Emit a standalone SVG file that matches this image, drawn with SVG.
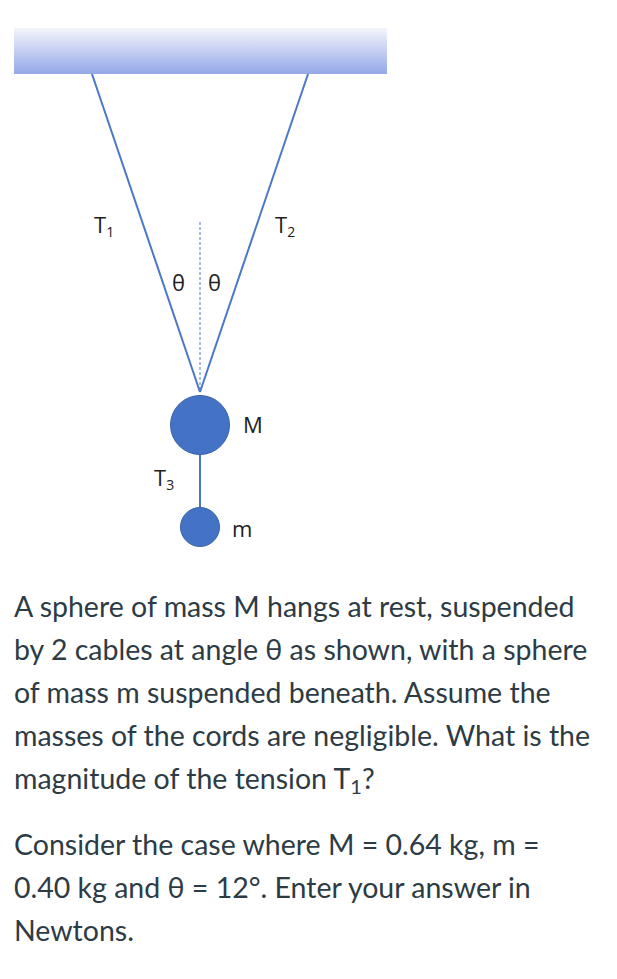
<svg xmlns="http://www.w3.org/2000/svg" width="617" height="979" viewBox="0 0 617 979">
<defs>
<linearGradient id="g" x1="0" y1="0" x2="0" y2="1"><stop offset="0" stop-color="#f4f5fc"/><stop offset="1" stop-color="#94a8e8"/></linearGradient>
<style>
.l{stroke:#4a78c8;stroke-width:2;fill:none}
.b{fill:#4472c4;stroke:#3a62a8;stroke-width:1}
.d{font-family:"Open Sans","Liberation Sans",sans-serif;font-size:22px;fill:#222}
.s{font-size:14px}
.t{font-family:Lato,"Liberation Sans",sans-serif;font-size:28.5px;fill:#2d3b45}
</style>
</defs>
<rect width="617" height="979" fill="#fff"/>
<rect id="ceiling" x="14" y="28" width="373" height="46" fill="url(#g)"/>
<g id="connectors">
<line class="l" x1="92" y1="74" x2="200" y2="392"/>
<line class="l" x1="308" y1="74" x2="200" y2="392"/>
<line x1="200" y1="222" x2="200" y2="392" stroke="#4a78c8" stroke-width="1" stroke-dasharray="3,2"/>
<line class="l" x1="200" y1="454" x2="200" y2="508"/>
</g>
<g id="M"><circle class="b" cx="200" cy="425" r="29.5"/><text class="d" x="243" y="433">M</text></g>
<g id="m"><circle class="b" cx="200" cy="527" r="19.5"/><text class="d" x="232" y="537">m</text></g>
<g id="labels">
<text class="d" x="94" y="233">T<tspan class="s" dy="4">1</tspan></text>
<text class="d" x="275" y="233">T<tspan class="s" dy="4">2</tspan></text>
<text class="d" x="154" y="486">T<tspan class="s" dy="4">3</tspan></text>
<text class="d" x="172" y="291">θ</text>
<text class="d" x="208" y="291">θ</text>
</g>
<g id="question">
<text class="t" x="14" y="617">A sphere of mass M hangs at rest, suspended</text>
<text class="t" x="14" y="660">by 2 cables at angle θ as shown, with a sphere</text>
<text class="t" x="14" y="703">of mass m suspended beneath. Assume the</text>
<text class="t" x="14" y="746">masses of the cords are negligible. What is the</text>
<text class="t" x="14" y="789">magnitude of the tension T<tspan font-size="20" dy="5">1</tspan><tspan dy="-5">?</tspan></text>
<text class="t" x="14" y="855">Consider the case where M = 0.64 kg, m =</text>
<text class="t" x="14" y="898">0.40 kg and θ = 12°. Enter your answer in</text>
<text class="t" x="14" y="941">Newtons.</text>
</g>
</svg>
